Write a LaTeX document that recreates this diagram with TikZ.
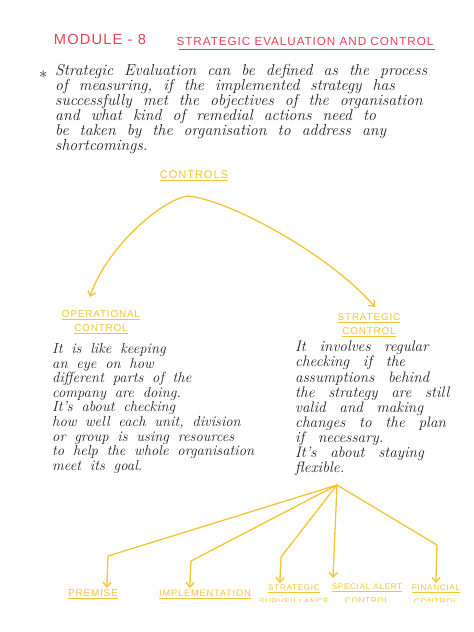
\documentclass[tikz,border=0pt]{standalone}
\usepackage{fontspec}
\usetikzlibrary{arrows.meta}
\newfontfamily\capsfont[LetterSpace=8]{Liberation Sans}
\definecolor{rosered}{RGB}{228,64,88}
\definecolor{marigold}{RGB}{243,196,48}
\colorlet{inkblack}{black!88}
\newcommand\wordgap[1]{\spaceskip=#1em plus 0.1em\relax}

\tikzset{
  hand/.style={font=\itshape\fontsize{12.5}{12.5}\selectfont\wordgap{0.6}, align=left, inner sep=0pt, anchor=north west, text=inkblack},
  headcaps/.style={font=\capsfont\fontsize{12.5}{14}\selectfont, text=rosered, inner sep=1pt},
  yellowcaps/.style={font=\capsfont\fontsize{8.5}{12}\selectfont, text=marigold, align=center, inner sep=1pt},
  smallcaps/.style={yellowcaps, font=\capsfont\fontsize{7}{12.5}\selectfont, anchor=north},
  branch/.style={marigold, line width=1.1pt, line cap=round, line join=round, -{Straight Barb[length=4pt,width=7pt]}},
}

\begin{document}
\begin{tikzpicture}[x=0.3mm, y=-0.3mm]
  \useasboundingbox (0,0) rectangle (474,632);
  % title
  \node[headcaps] (module) at (100,39) {MODULE - 8};
  \node[headcaps, font=\capsfont\fontsize{10}{12}\selectfont] (title) at (305,41) {STRATEGIC EVALUATION AND CONTROL};
  \draw[rosered, line width=0.8pt] (title.south west) ++(4,3) coordinate (tl) -- (title.south east |- tl);
  % definition
  \node[hand, font=\Large] (star) at (39,71) {*};
  \node[hand, font=\itshape\fontsize{13.5}{12.9}\selectfont\wordgap{0.7}] (defn) at (55,64) {Strategic Evaluation can be defined as the process\\
    of measuring, if the implemented strategy has\\
    successfully met the objectives of the organisation\\
    and what kind of remedial actions need to\\
    be taken by the organisation to address any\\
    shortcomings.};
  % controls
  \node[yellowcaps, font=\capsfont\fontsize{9.5}{12}\selectfont] (controls) at (194,176) {\underline{CONTROLS}};
  \coordinate (apex) at (188,196);
  \node[yellowcaps] (opctl) at (101,322) {\underline{OPERATIONAL}\\\underline{CONTROL}};
  \node[yellowcaps] (stctl) at (369,325) {\underline{STRATEGIC}\\\underline{CONTROL}};
  \draw[branch] (apex) .. controls (160,200) and (105,250) .. (90,297);
  \draw[branch] (apex) .. controls (230,200) and (330,255) .. (375,307);
  \node[hand] (optext) at (52,343) {It is like keeping\\
    an eye on how\\
    different parts of the\\
    company are doing.\\
    It's about checking\\
    how well each unit, division\\
    or group is using resources\\
    to help the whole organisation\\
    meet its goal.};
  \node[hand, font=\itshape\fontsize{13}{12.9}\selectfont\wordgap{0.9}] (sttext) at (295,341) {It involves regular\\
    checking if the\\
    assumptions behind\\
    the strategy are still\\
    valid and making\\
    changes to the plan\\
    if necessary.\\
    It's about staying\\
    flexible.};
  % types of strategic control
  \coordinate (hub) at (337,485);
  \coordinate (b1) at (108,556);
  \coordinate (b2) at (191,561);
  \coordinate (b3) at (281,557);
  \coordinate (b5) at (437,545);
  \begin{scope}
    \clip (0,0) rectangle (474,601);
    \node[yellowcaps] (premise) at (93,594) {\underline{PREMISE}};
    \node[yellowcaps, font=\capsfont\fontsize{8}{10}\selectfont] (impl) at (205,594) {\underline{IMPLEMENTATION}};
    \node[smallcaps] (survey) at (294,583) {\underline{STRATEGIC}\\SURVEILLANCE};
    \node[smallcaps] (alert) at (367,582) {\underline{SPECIAL ALERT}\\CONTROL};
    \node[smallcaps] (finance) at (436,583) {\underline{FINANCIAL}\\CONTROL};
  \end{scope}
  \draw[branch] (hub) -- (b1) -- ([xshift=-1pt]b1 |- premise.north);
  \draw[branch] (hub) -- (b2) -- ([xshift=-1pt]b2 |- impl.north);
  \draw[branch] (hub) -- (b3) -- ([xshift=-1pt]b3 |- survey.north);
  \draw[branch] (hub) -- (333,578);
  \draw[branch] (hub) -- (b5) -- ([xshift=-1pt]b5 |- finance.north);
\end{tikzpicture}
\end{document}
